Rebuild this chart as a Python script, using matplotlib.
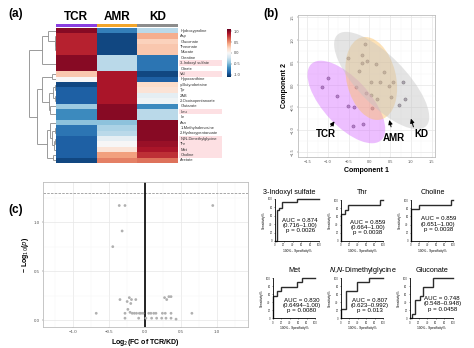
import numpy as np
import matplotlib
matplotlib.use("Agg")
import matplotlib.pyplot as plt
from matplotlib.patches import Ellipse
from matplotlib.collections import LineCollection

plt.rcParams['font.family'] = ['Liberation Sans', 'DejaVu Sans']

W, H = 474, 348
fig = plt.figure(figsize=(W / 100, H / 100), dpi=100)


def pax(l, t, r, b):
    return fig.add_axes([l / W, 1 - b / H, (r - l) / W, (b - t) / H])


# ---------------- data ----------------
groups = ['TCR', 'AMR', 'KD']
group_colors = ['#8a3fe0', '#f2a52a', '#8c8c8c']

metabolites = ['Hydroxyproline', 'Asp', 'Gluconate', 'Threonate', 'Mucate',
               'Creatine', '3-Indoxyl sulfate', 'Citrate', 'Val', 'Hypoxanthine',
               'γ-Butyrobetaine', 'Tyr', '2AB', '2-Oxoisopentanoate', 'Glutarate',
               'Leu', 'Ile', 'Asn', '1-Methyladenosine', '2-Hydroxypentanoate',
               'N,N-Dimethylglycine', 'Thr', 'Met', 'Choline', 'Acetate']
tcr_z = [1.0, 0.85, 0.85, 0.85, 0.85, 1.0, 1.0, 1.0, 0.3, 0.0, -1.0, -0.9, -0.9, -0.9,
         -0.4, -0.7, -0.7, -0.45, -0.8, -0.8, -0.9, -0.9, -0.9, -0.9, -1.0]
amr_z = [-0.75, -1.0, -1.0, -1.0, -1.0, -0.3, -0.3, -0.3, 0.9, 0.9, 0.9, 0.9, 0.9, 0.9,
         1.0, 1.0, 1.0, -0.45, -0.35, -0.3, -0.1, 0.0, 0.15, 0.45, 0.55]
kd_z = [-0.3, 0.4, 0.25, 0.3, 0.3, -0.8, -0.8, -0.8, -1.0, -0.9, 0.2, 0.15, -0.1, -0.05,
        -0.7, -0.3, -0.3, 1.0, 1.0, 1.0, 1.0, 0.95, 0.9, 0.8, 0.6]
highlighted = ['3-Indoxyl sulfate', 'Val', 'Leu', 'N,N-Dimethylglycine', 'Thr', 'Met', 'Choline']

# PCA scores
tcr_pc1 = [-0.99, -1.15, -0.77, -0.52, -0.36, -0.40, -0.16, -0.09]
tcr_pc2 = [0.15, -0.05, -0.24, -0.46, -0.49, -0.91, -0.86, -0.18]
amr_pc1 = [-0.18, -0.05, 0.16, -0.26, 0.34, 0.05, 0.46, -0.33, 0.18, 0.07]
amr_pc2 = [0.66, 0.53, 0.47, 0.30, 0.28, 0.07, -0.02, -0.04, -0.32, -0.51]
kd_pc1 = [-0.10, -0.51, -0.19, 0.25, 0.56, 0.80, 0.05, 0.51, 0.86, 0.72]
kd_pc2 = [0.91, 0.60, 0.48, 0.07, 0.07, 0.07, -0.22, -0.27, -0.31, -0.44]

# volcano
volc_fc = [-0.36, -0.28, 0.94, -0.32, -0.45,
           -0.35, -0.25, -0.22, -0.19, -0.20, -0.13, 0.27, 0.30, 0.33, 0.36,
           -0.68, -0.28, -0.24, -0.21, -0.18, -0.15, -0.12, -0.08, -0.06, -0.03,
           0.05, 0.08, 0.12, 0.15, 0.24, 0.28, 0.36, 0.65,
           -0.28, -0.09, 0.01, 0.09, 0.16, 0.23, 0.29, 0.36, 0.43]
volc_logp = [1.17, 1.17, 1.17, 0.91, 0.75,
             0.21, 0.19, 0.23, 0.21, 0.17, 0.21, 0.23, 0.21, 0.24, 0.24,
             0.07, 0.07, 0.11, 0.08, 0.07, 0.07, 0.07, 0.07, 0.07, 0.07,
             0.07, 0.07, 0.07, 0.07, 0.07, 0.07, 0.07, 0.07,
             0.02, 0.02, 0.02, 0.02, 0.02, 0.02, 0.02, 0.02, 0.01]

# ROC
roc_names = ['3-Indoxyl sulfate', 'Thr', 'Choline', 'Met', 'N,N-Dimethylglycine', 'Gluconate']
roc_fpr = [[0, 5, 9, 15, 50, 100],
           [0, 0, 9, 17, 92, 100],
           [0, 0, 20, 96, 100],
           [0, 0, 9, 19, 57, 69, 100],
           [0, 0, 11, 38, 67, 100],
           [0, 5, 12, 23, 31, 53, 100]]
roc_tpr = [[0, 74, 78, 92, 100, 100],
           [0, 67, 75, 88, 100, 100],
           [0, 78, 89, 100, 100],
           [0, 55, 67, 78, 89, 100, 100],
           [0, 22, 67, 89, 100, 100],
           [0, 10, 45, 55, 77, 100, 100]]
roc_auc = ['0.874', '0.859', '0.859', '0.830', '0.807', '0.748']
roc_ci = ['0.716–1.00', '0.664–1.00', '0.651–1.00', '0.6494–1.00', '0.623–0.992', '0.548–0.948']
roc_p = ['0.0026', '0.0038', '0.0038', '0.0080', '0.013', '0.0458']

# ---------------- panel (a) ----------------
heat = np.column_stack([tcr_z, amr_z, kd_z])
n = len(metabolites)
ax_h = pax(56, 28, 178, 163)
im = ax_h.imshow(heat, cmap='RdBu_r', vmin=-1.1, vmax=1.1, aspect='auto',
                 interpolation='nearest')
ax_h.set_xticks([]); ax_h.set_yticks([])
for s in ax_h.spines.values():
    s.set_visible(False)

# group header bars
ax_g = pax(56, 23.5, 178, 26.5)
ax_g.bar(range(3), [1, 1, 1], width=1.0, color=group_colors)
ax_g.set_xlim(-0.5, 2.5); ax_g.set_ylim(0, 1); ax_g.axis('off')
for i, g in enumerate(groups):
    fig.text((56 + (i + 0.5) * 122 / 3) / W, 1 - 16.5 / H, g, ha='center', va='center',
             fontsize=8.5, fontweight='bold')

# row labels with highlights
ax_l = pax(179, 28, 222, 163)
ax_l.set_xlim(0, 1); ax_l.set_ylim(n - 0.5, -0.5); ax_l.axis('off')
for i, m in enumerate(metabolites):
    if m in highlighted:
        ax_l.barh(i, 1.0, height=1.0, left=0, color='#fde0e3', zorder=0)
    ax_l.text(0.03, i, m, fontsize=2.9, va='center', ha='left', color='#333333')

# dendrogram (adjacent-constrained average linkage on row profiles)
def adjacent_linkage(X):
    clusters = [[i] for i in range(len(X))]
    pos = [float(i) for i in range(len(X))]
    hs = [0.0] * len(X)
    segs = []
    while len(clusters) > 1:
        ds = [np.mean([np.linalg.norm(X[a] - X[b]) for a in clusters[j] for b in clusters[j + 1]])
              for j in range(len(clusters) - 1)]
        j = int(np.argmin(ds))
        h = max(ds[j], hs[j], hs[j + 1])
        segs += [[(hs[j], pos[j]), (h, pos[j])], [(hs[j + 1], pos[j + 1]), (h, pos[j + 1])],
                 [(h, pos[j]), (h, pos[j + 1])]]
        clusters[j] = clusters[j] + clusters[j + 1]; del clusters[j + 1]
        pos[j] = (pos[j] + pos[j + 1]) / 2; del pos[j + 1]
        hs[j] = h; del hs[j + 1]
    return segs, hs[0]

segs, hmax = adjacent_linkage(heat)
ax_d = pax(29, 28, 56, 163)
ax_d.add_collection(LineCollection(segs, colors='#8a8a8a', linewidths=0.6))
ax_d.set_xlim(hmax, 0); ax_d.set_ylim(n - 0.5, -0.5); ax_d.axis('off')

# colorbar
cax = pax(227, 29, 230.5, 77)
cb = fig.colorbar(im, cax=cax, ticks=[-1, -0.5, 0, 0.5, 1])
cb.outline.set_visible(False)
cb.ax.set_yticklabels(['-1.0', '-0.5', '0.0', '0.5', '1.0'])
cb.ax.tick_params(labelsize=2.8, length=0.8, width=0.3, pad=1.5, colors='#444444')
cb.ax.set_ylim(-1.1, 1.1)

fig.text(16 / W, 1 - 14 / H, '(a)', fontsize=8.5, fontweight='bold', ha='center', va='center')
fig.text(271 / W, 1 - 14 / H, '(b)', fontsize=8.5, fontweight='bold', ha='center', va='center')
fig.text(16 / W, 1 - 210 / H, '(c)', fontsize=8.5, fontweight='bold', ha='center', va='center')

# ---------------- panel (b) ----------------
ax_b = pax(298, 15, 435, 157)
ax_b.set_xlim(-1.72, 1.58); ax_b.set_ylim(-1.6, 1.55)
ax_b.set_xticks([-1.5, -1.0, -0.5, 0.0, 0.5, 1.0, 1.5])
ax_b.set_yticks([-1.5, -1.0, -0.5, 0.0, 0.5, 1.0, 1.5])
ax_b.set_xticks([-1.25, -0.75, -0.25, 0.25, 0.75, 1.25], minor=True)
ax_b.set_yticks([-1.25, -0.75, -0.25, 0.25, 0.75, 1.25], minor=True)
ax_b.grid(True, which='major', color='#e6e6e6', lw=0.5)
ax_b.grid(True, which='minor', color='#f3f3f3', lw=0.3)
ax_b.set_axisbelow(True)
ax_b.tick_params(which='both', labelsize=2.8, length=1, width=0.3, colors='#555555', pad=1.5)
ax_b.tick_params(which='minor', length=0)
for lab in ax_b.get_yticklabels():
    lab.set_rotation(90); lab.set_va('center')
for s in ax_b.spines.values():
    s.set_color('#bdbdbd'); s.set_linewidth(0.6)

ell_colors = ['#d871ff', '#fcc061', '#c4c4c4']
pcs = [(tcr_pc1, tcr_pc2), (amr_pc1, amr_pc2), (kd_pc1, kd_pc2)]


def conf_ellipse(x, y, color):
    x = np.asarray(x); y = np.asarray(y)
    cov = np.cov(x, y)
    vals, vecs = np.linalg.eigh(cov)
    order = vals.argsort()[::-1]
    vals = vals[order]; vecs = vecs[:, order]
    angle = np.degrees(np.arctan2(vecs[1, 0], vecs[0, 0]))
    k = np.sqrt(5.991)
    return Ellipse((x.mean(), y.mean()), 2 * k * np.sqrt(vals[0]), 2 * k * np.sqrt(vals[1]),
                   angle=angle, facecolor=color, edgecolor='none', alpha=0.45, zorder=3)

for (x, y), c in zip(pcs, ell_colors):
    ax_b.scatter(x, y, s=5, facecolor='#9a8e9e', edgecolor='#4d4452', linewidth=0.4, zorder=2)
for (x, y), c in zip(pcs, ell_colors):
    ax_b.add_patch(conf_ellipse(x, y, c))

lab_xy = [(-1.05, -1.1), (0.58, -1.18), (1.26, -1.1)]
arrow_tail = [(-0.97, -0.97), (0.54, -0.99), (1.08, -0.99)]
arrow_head = [(-0.80, -0.76), (0.46, -0.72), (0.98, -0.69)]
for g, lxy, t, hd in zip(groups, lab_xy, arrow_tail, arrow_head):
    ax_b.text(lxy[0], lxy[1], g, fontsize=7, fontweight='bold', ha='center', va='center', zorder=5)
    ax_b.annotate('', xy=hd, xytext=t,
                  arrowprops=dict(arrowstyle='-|>,head_length=0.25,head_width=0.12', color='black', lw=0.7),
                  zorder=5)
ax_b.set_xlabel('Component 1', fontsize=5, fontweight='bold', labelpad=2)
ax_b.set_ylabel('Component 2', fontsize=5, fontweight='bold', labelpad=2)

# ---------------- panel (c) volcano ----------------
ax_v = pax(43, 182, 248, 327)
ax_v.set_xlim(-1.42, 1.43); ax_v.set_ylim(-0.07, 1.41)
ax_v.set_xticks([-1.0, -0.5, 0.0, 0.5, 1.0])
ax_v.set_yticks([0.0, 0.5, 1.0])
ax_v.set_xticks([-1.25, -0.75, -0.25, 0.25, 0.75, 1.25], minor=True)
ax_v.set_yticks([0.25, 0.75, 1.25], minor=True)
ax_v.grid(True, which='major', color='#e6e6e6', lw=0.5)
ax_v.grid(True, which='minor', color='#f3f3f3', lw=0.3)
ax_v.set_axisbelow(True)
ax_v.tick_params(which='both', labelsize=3.2, length=1, width=0.3, colors='#555555', pad=1.5)
ax_v.tick_params(which='minor', length=0)
for s in ax_v.spines.values():
    s.set_color('#bdbdbd'); s.set_linewidth(0.6)
ax_v.axhline(-np.log10(0.05), color='#999999', lw=0.6, ls=(0, (3, 1.5)))
ax_v.axvline(0, color='black', lw=1.2)
ax_v.scatter(volc_fc, volc_logp, s=4, color='#b0b0b0', edgecolor='none', zorder=3)
ax_v.set_xlabel('Log$_{2}$(FC of TCR/KD)', fontsize=5, fontweight='bold', labelpad=2)
ax_v.set_ylabel('− Log$_{10}$($p$)', fontsize=5, fontweight='bold', labelpad=2)

# ---------------- ROC panels ----------------
roc_boxes = [(275, 199, 319, 241), (341, 200, 383, 241), (411, 200, 453, 241),
             (273, 278, 315, 318), (341, 278, 383, 318), (410, 278, 453, 318)]
title_xy = [(289, 192), (362, 192), (433, 192), (294, 270), (363, 270), (432, 270)]
text_xy = [(0.575, 0.37), (0.64, 0.33), (0.65, 0.41), (0.69, 0.315), (0.69, 0.315), (0.75, 0.35)]
for k, (name, box) in enumerate(zip(roc_names, roc_boxes)):
    ax = pax(*box)
    ax.plot(roc_fpr[k], roc_tpr[k], drawstyle='steps-post', color='#2b2b2b', lw=1.0,
            clip_on=False, solid_joinstyle='miter')
    ax.set_xlim(0, 100); ax.set_ylim(0, 100)
    ax.set_xticks(range(0, 101, 20)); ax.set_yticks(range(0, 101, 20))
    ax.tick_params(labelsize=2.0, length=1, width=0.4, pad=0.8, colors='#333333')
    for s in ['top', 'right']:
        ax.spines[s].set_visible(False)
    for s in ['left', 'bottom']:
        ax.spines[s].set_linewidth(0.6)
    ax.set_xlabel('100% - Specificity%', fontsize=2.3, labelpad=1)
    ax.set_ylabel('Sensitivity%', fontsize=2.3, labelpad=1)
    title = '$N$,$N$-Dimethylglycine' if name.startswith('N,N') else name
    fig.text(title_xy[k][0] / W, 1 - title_xy[k][1] / H, title, fontsize=5.2,
             ha='center', va='center')
    ax.text(text_xy[k][0], text_xy[k][1], f'AUC = {roc_auc[k]}\n({roc_ci[k]})\np = {roc_p[k]}',
            transform=ax.transAxes, fontsize=4.4, ha='center', va='center', linespacing=1.1)

fig.savefig('out.png', dpi=100)
